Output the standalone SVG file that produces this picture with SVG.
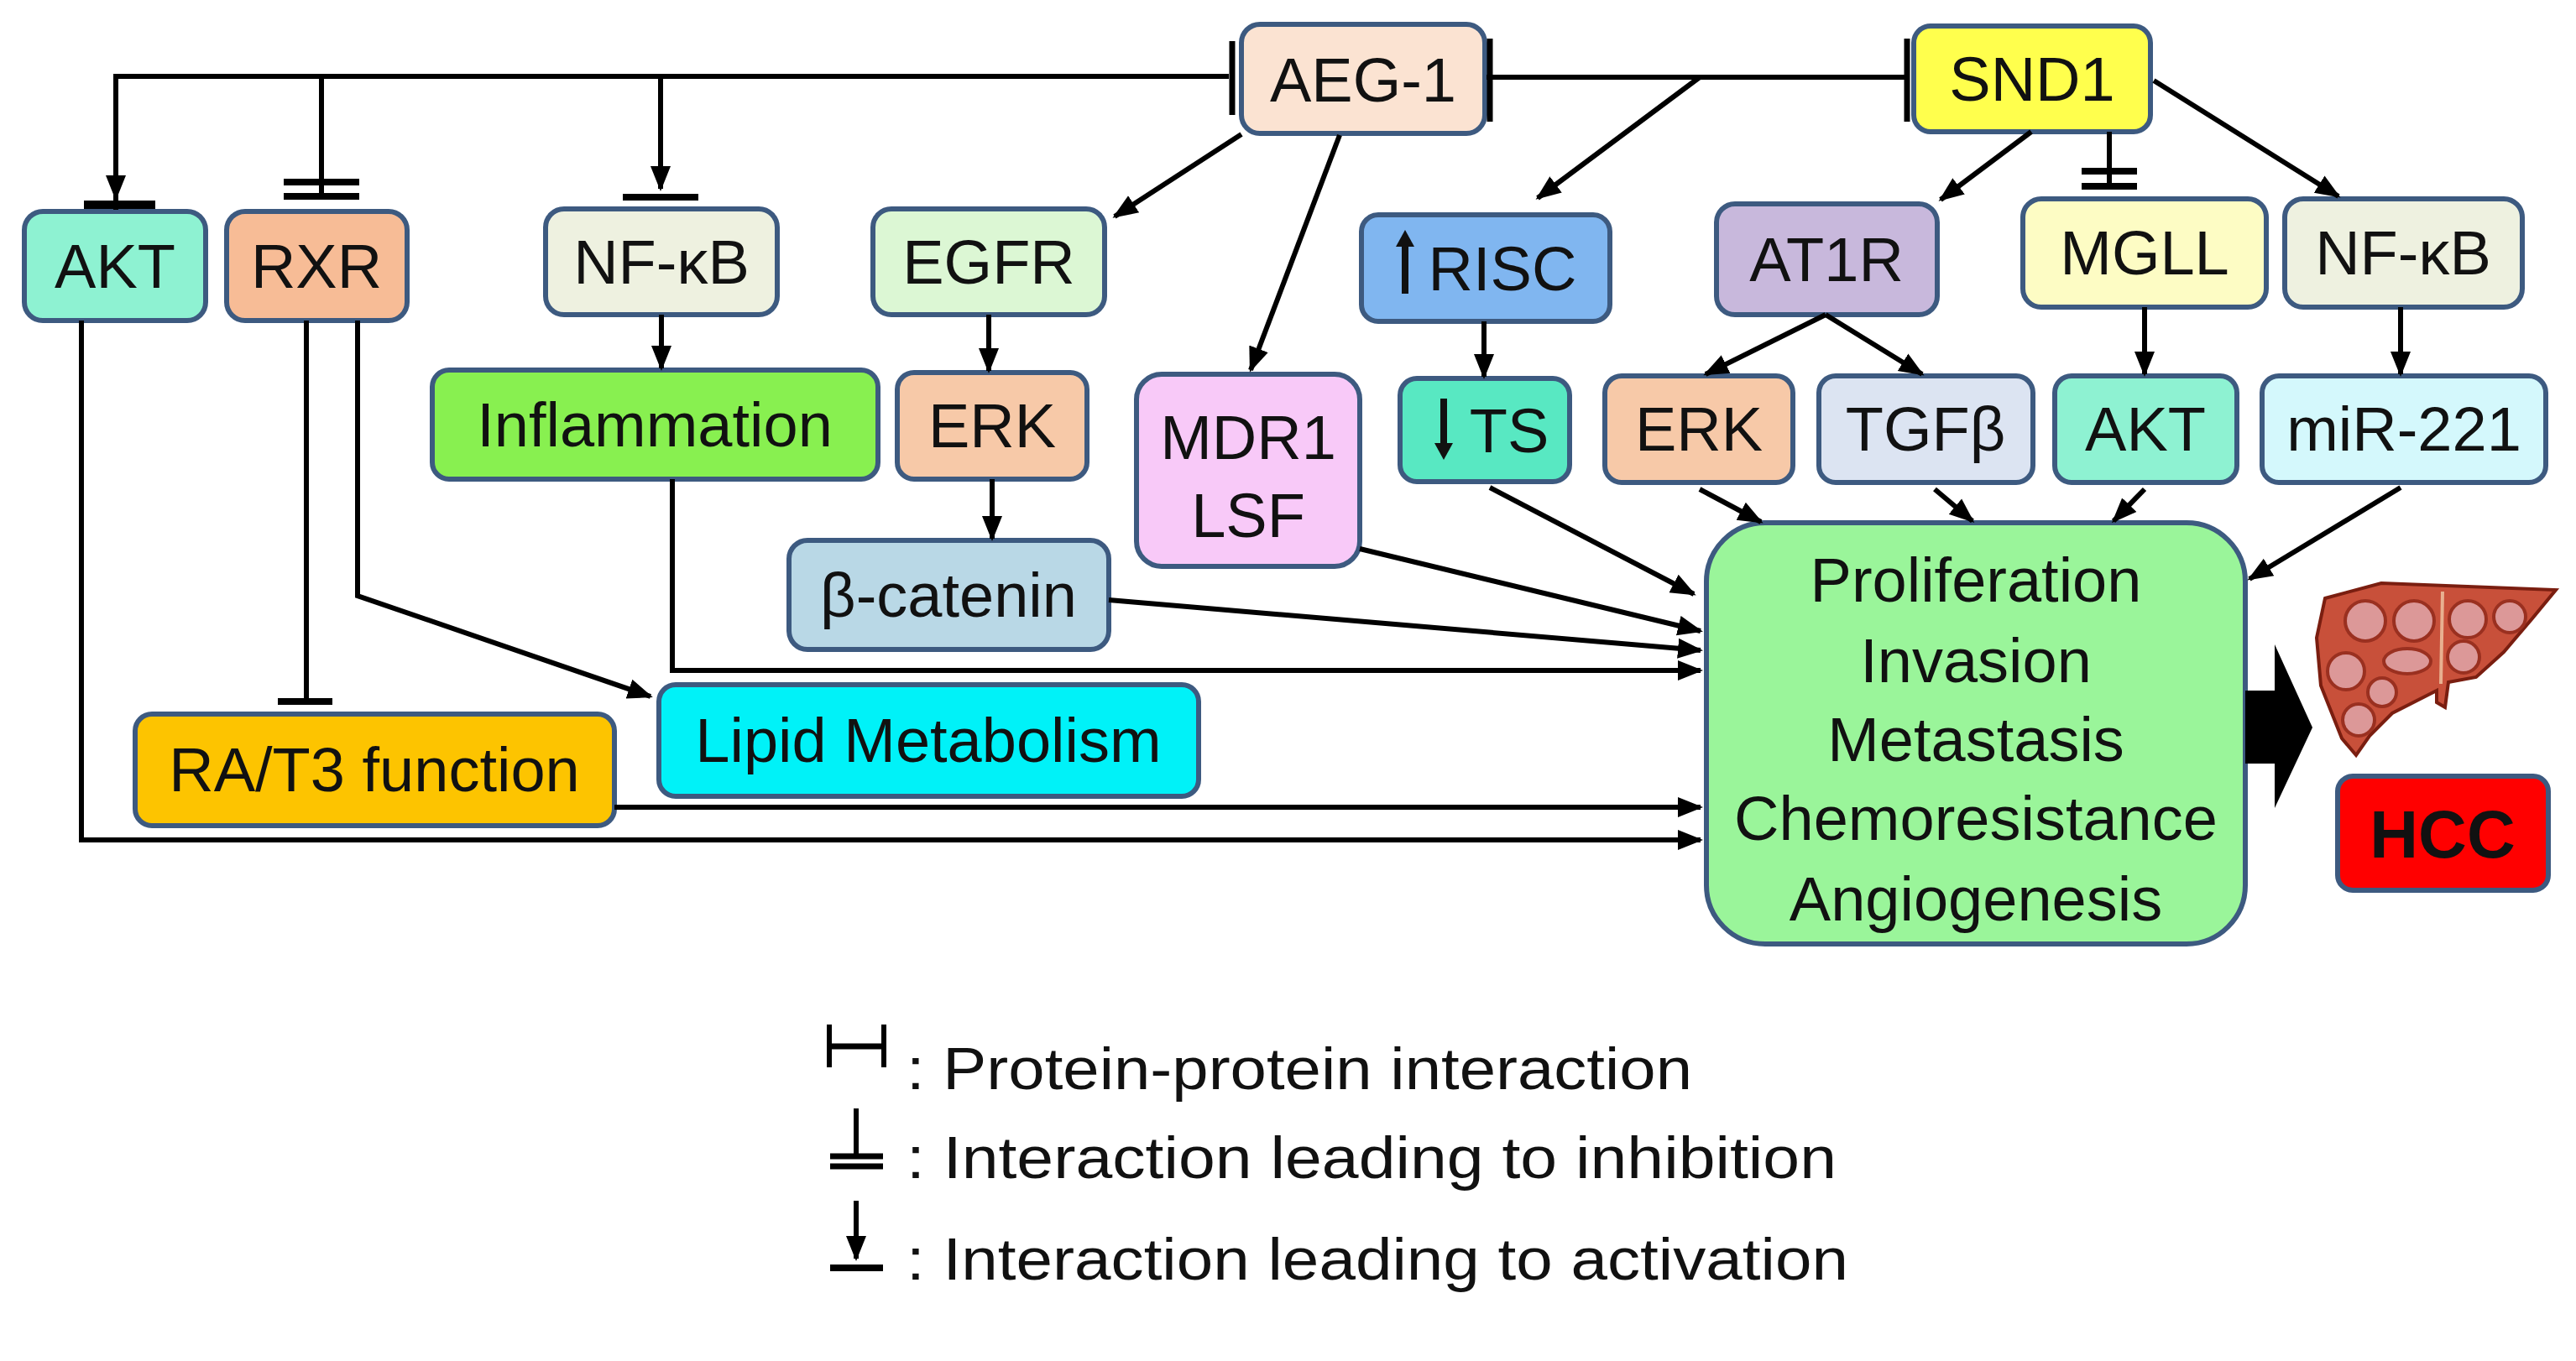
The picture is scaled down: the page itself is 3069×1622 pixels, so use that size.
<svg xmlns="http://www.w3.org/2000/svg" width="3069" height="1622" viewBox="0 0 3069 1622">
<defs>
<marker id="ah" viewBox="0 0 10 10" refX="9" refY="5" markerWidth="5" markerHeight="5" orient="auto" markerUnits="strokeWidth"><path d="M0,1 L10,5 L0,9 z" fill="#000"/></marker>
<style>
.n rect{stroke:#3d5a80;stroke-width:6}
.n text, .t{font-family:"Liberation Sans",Arial,sans-serif;font-size:74px;fill:#111;text-anchor:middle}
.c line,.c polyline{stroke:#000;stroke-width:6;fill:none}
.a{marker-end:url(#ah)}
.lg{font-family:"Liberation Sans",Arial,sans-serif;font-size:70px;fill:#111}
</style>
</defs>
<rect width="3069" height="1622" fill="#fff"/>
<g id="n-aeg1" class="n"><rect x="1479" y="29" width="290" height="130" rx="22" fill="#fbe3d2"/><text x="1624" y="121">AEG-1</text></g>
<g id="n-snd1" class="n"><rect x="2280" y="31" width="282" height="126" rx="20" fill="#ffff4d"/><text x="2421" y="120">SND1</text></g>
<g id="n-akt1" class="n"><rect x="29" y="252" width="216" height="130" rx="22" fill="#8ef2d2"/><text x="137" y="343">AKT</text></g>
<g id="n-rxr" class="n"><rect x="270" y="252" width="215" height="130" rx="22" fill="#f7bc96"/><text x="377" y="343">RXR</text></g>
<g id="n-nfkb1" class="n"><rect x="650" y="249" width="276" height="126" rx="22" fill="#eef1e0"/><text x="788" y="338">NF-κB</text></g>
<g id="n-egfr" class="n"><rect x="1040" y="249" width="276" height="126" rx="22" fill="#dcf7d4"/><text x="1178" y="338">EGFR</text></g>
<g id="n-infl" class="n"><rect x="515" y="441" width="531" height="130" rx="20" fill="#88f050"/><text x="780" y="532">Inflammation</text></g>
<g id="n-erk1" class="n"><rect x="1069" y="444" width="226" height="127" rx="20" fill="#f7c9a8"/><text x="1182" y="533">ERK</text></g>
<g id="n-mdr" class="n"><rect x="1354" y="446" width="266" height="229" rx="30" fill="#f8c9f8"/><text x="1487" y="547">MDR1</text><text x="1487" y="640">LSF</text></g>
<g id="n-bcat" class="n"><rect x="940" y="644" width="381" height="130" rx="22" fill="#b9d8e6"/><text x="1130" y="735">β-catenin</text></g>
<g id="n-lipid" class="n"><rect x="785" y="816" width="643" height="133" rx="20" fill="#00f2f8"/><text x="1106" y="908">Lipid Metabolism</text></g>
<g id="n-ra" class="n"><rect x="161" y="851" width="571" height="133" rx="20" fill="#fdc400"/><text x="446" y="943">RA/T3  function</text></g>
<g id="n-risc" class="n"><rect x="1622" y="256" width="296" height="127" rx="20" fill="#80b6f0"/><text x="1790" y="346">RISC</text><line x1="1674" y1="350" x2="1674" y2="285" stroke="#111" stroke-width="8"/><path d="M1663,294 L1674,274 L1685,294 z" fill="#111"/></g>
<g id="n-ts" class="n"><rect x="1668" y="451" width="202" height="123" rx="20" fill="#58e8c2"/><text x="1798" y="539">TS</text><line x1="1720" y1="475" x2="1720" y2="535" stroke="#111" stroke-width="8"/><path d="M1709,528 L1720,548 L1731,528 z" fill="#111"/></g>
<g id="n-at1r" class="n"><rect x="2045" y="243" width="263" height="132" rx="22" fill="#c8b8dc"/><text x="2176" y="335">AT1R</text></g>
<g id="n-mgll" class="n"><rect x="2410" y="237" width="290" height="129" rx="22" fill="#fdfcc4"/><text x="2555" y="327">MGLL</text></g>
<g id="n-nfkb2" class="n"><rect x="2722" y="237" width="283" height="129" rx="22" fill="#eef1e0"/><text x="2863" y="327">NF-κB</text></g>
<g id="n-erk2" class="n"><rect x="1912" y="448" width="224" height="127" rx="20" fill="#f7c9a8"/><text x="2024" y="537">ERK</text></g>
<g id="n-tgfb" class="n"><rect x="2167" y="448" width="255" height="127" rx="20" fill="#dce4f2"/><text x="2294" y="537">TGFβ</text></g>
<g id="n-akt2" class="n"><rect x="2448" y="448" width="217" height="127" rx="20" fill="#8ef2d2"/><text x="2556" y="537">AKT</text></g>
<g id="n-mir" class="n"><rect x="2695" y="448" width="338" height="127" rx="20" fill="#d4f8fc"/><text x="2864" y="537">miR-221</text></g>
<g id="n-prolif" class="n"><rect x="2033" y="623" width="642" height="502" rx="70" fill="#9af59a"/><text x="2354" y="717">Proliferation</text><text x="2354" y="813">Invasion</text><text x="2354" y="907">Metastasis</text><text x="2354" y="1001">Chemoresistance</text><text x="2354" y="1097">Angiogenesis</text></g>
<g id="n-hcc" class="n"><rect x="2785" y="925" width="251" height="136" rx="18" fill="#ff0000" stroke="#4a4a7a"/><text x="2910" y="1022" style="font-weight:bold;font-size:80px">HCC</text></g>
<g id="liver">
<path d="M2770,713 L2837,695 L3045,703 L3017,737 L2983,777 L2950,807 L2917,813 L2913,843 L2903,837 L2903,823 L2850,850 L2823,877 L2807,900 L2790,880 L2765,817 L2760,760 Z" fill="#c8503a" stroke="#7a1e10" stroke-width="4"/>
<line x1="2910" y1="705" x2="2908" y2="815" stroke="#e8b090" stroke-width="4"/>
<g fill="#dc9898" stroke="#9a3020" stroke-width="4">
<circle cx="2818" cy="740" r="24"/><circle cx="2876" cy="740" r="24"/><circle cx="2940" cy="738" r="22"/><circle cx="2990" cy="735" r="19"/>
<circle cx="2795" cy="800" r="22"/><ellipse cx="2868" cy="788" rx="28" ry="15"/><circle cx="2935" cy="783" r="19"/>
<circle cx="2838" cy="825" r="17"/><circle cx="2810" cy="858" r="19"/>
</g>
</g>
<g id="connectors" class="c">
<polyline points="138,250 138,91 1464,91"/>
<line x1="138" y1="180" x2="138" y2="236" class="a"/>
<line x1="100" y1="244" x2="185" y2="244" style="stroke-width:10"/>
<line x1="383" y1="91" x2="383" y2="234"/>
<line x1="338" y1="217" x2="428" y2="217" style="stroke-width:8"/>
<line x1="338" y1="234" x2="428" y2="234" style="stroke-width:8"/>
<line x1="787" y1="91" x2="787" y2="225" class="a"/>
<line x1="742" y1="235" x2="832" y2="235" style="stroke-width:8"/>
<line x1="1468" y1="49" x2="1468" y2="137" style="stroke-width:7"/>
<line x1="1771" y1="92" x2="2272" y2="92"/>
<line x1="1775" y1="46" x2="1775" y2="145" style="stroke-width:7"/>
<line x1="2272" y1="46" x2="2272" y2="145" style="stroke-width:7"/>
<line x1="2025" y1="92" x2="1832" y2="236" class="a"/>
<line x1="1479" y1="160" x2="1328" y2="258" class="a"/>
<line x1="1596" y1="161" x2="1490" y2="441" class="a"/>
<line x1="788" y1="375" x2="788" y2="439" class="a"/>
<line x1="1178" y1="375" x2="1178" y2="442" class="a"/>
<line x1="1182" y1="571" x2="1182" y2="642" class="a"/>
<line x1="1768" y1="383" x2="1768" y2="449" class="a"/>
<line x1="2420" y1="157" x2="2312" y2="238" class="a"/>
<line x1="2513" y1="157" x2="2513" y2="222"/>
<line x1="2480" y1="204" x2="2546" y2="204" style="stroke-width:8"/>
<line x1="2480" y1="222" x2="2546" y2="222" style="stroke-width:8"/>
<line x1="2566" y1="96" x2="2786" y2="234" class="a"/>
<line x1="2175" y1="375" x2="2032" y2="446" class="a"/>
<line x1="2175" y1="375" x2="2290" y2="446" class="a"/>
<line x1="2555" y1="366" x2="2555" y2="446" class="a"/>
<line x1="2860" y1="366" x2="2860" y2="446" class="a"/>
<line x1="1775" y1="581" x2="2018" y2="708" class="a"/>
<line x1="2025" y1="583" x2="2098" y2="622" class="a"/>
<line x1="2305" y1="583" x2="2350" y2="621" class="a"/>
<line x1="2555" y1="583" x2="2518" y2="621" class="a"/>
<line x1="2860" y1="581" x2="2680" y2="690" class="a"/>
<line x1="1620" y1="654" x2="2026" y2="752" class="a"/>
<line x1="1321" y1="715" x2="2026" y2="775" class="a"/>
<polyline points="801,571 801,799 2026,799" class="a"/>
<polyline points="426,382 426,710 775,830" class="a"/>
<line x1="365" y1="382" x2="365" y2="833"/>
<line x1="331" y1="836" x2="396" y2="836" style="stroke-width:8"/>
<line x1="732" y1="962" x2="2026" y2="962" class="a"/>
<polyline points="97,382 97,1001 2026,1001" class="a"/>
</g>
<path id="bigarrow" d="M2675,823 L2710,823 L2710,768 L2755,867 L2710,963 L2710,910 L2675,910 Z" fill="#000"/>
<g id="legend">
<line x1="988" y1="1221" x2="988" y2="1272" stroke="#000" stroke-width="6"/>
<line x1="1053" y1="1221" x2="1053" y2="1272" stroke="#000" stroke-width="6"/>
<line x1="988" y1="1247" x2="1053" y2="1247" stroke="#000" stroke-width="7"/>
<text class="lg" x="1080" y="1298" textLength="936" lengthAdjust="spacingAndGlyphs">: Protein-protein interaction</text>
<line x1="1020" y1="1321" x2="1020" y2="1377" stroke="#000" stroke-width="6"/>
<line x1="989" y1="1378" x2="1052" y2="1378" stroke="#000" stroke-width="7"/>
<line x1="989" y1="1390" x2="1052" y2="1390" stroke="#000" stroke-width="7"/>
<text class="lg" x="1080" y="1404" textLength="1108" lengthAdjust="spacingAndGlyphs">: Interaction leading to inhibition</text>
<line x1="1020" y1="1431" x2="1020" y2="1500" stroke="#000" stroke-width="6" marker-end="url(#ah)"/>
<line x1="989" y1="1511" x2="1052" y2="1511" stroke="#000" stroke-width="8"/>
<text class="lg" x="1080" y="1525" textLength="1122" lengthAdjust="spacingAndGlyphs">: Interaction leading to activation</text>
</g>
</svg>
